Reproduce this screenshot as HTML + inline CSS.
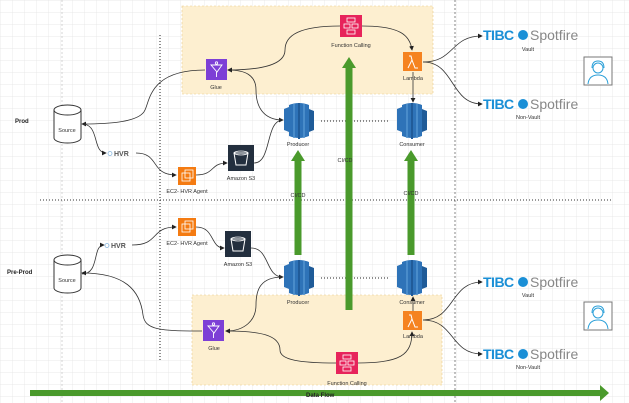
<!DOCTYPE html>
<html><head><meta charset="utf-8"><style>
html,body{margin:0;padding:0;background:#fff;}
svg{display:block;font-family:"Liberation Sans",sans-serif;}
</style></head><body>
<svg width="629" height="403" viewBox="0 0 629 403" xmlns="http://www.w3.org/2000/svg">
<defs>
<pattern id="g" width="12" height="12" patternUnits="userSpaceOnUse"><path d="M12 0H0V12" fill="none" stroke="#e2e2e2" stroke-width="0.7"/></pattern>
<marker id="a" markerWidth="6" markerHeight="6" refX="5" refY="3" orient="auto"><path d="M0,0L6,3L0,6z" fill="#222"/></marker>
<g id="db"><path d="M0 6 L5 4 V29 L0 27Z" fill="#2e73b8"/><path d="M25 6 L30 8 V27 L25 29Z" fill="#1f5b98"/><path d="M5 2 Q15 -2 25 2 V33 Q15 37 5 33Z" fill="#2e73b8"/><path d="M10 1 V35 M15 0 V36 M20 1 V35" stroke="#5294cf" stroke-width="1.5"/><path d="M15 0 V36" stroke="#205b99" stroke-width="2"/></g>
<g id="cyl"><path d="M0 5 V33 A13.5 5 0 0 0 27 33 V5" fill="#fff" stroke="#333"/><ellipse cx="13.5" cy="5" rx="13.5" ry="5" fill="#fff" stroke="#333"/></g>
<g id="glue"><rect width="21" height="21" fill="#7d3fd6"/><path d="M5 6 H16 L11 13 Z M10.5 13 V18" fill="none" stroke="#fff" stroke-width="0.9"/><circle cx="10.5" cy="4" r="1.2" fill="none" stroke="#fff" stroke-width="0.8"/></g>
<g id="lam"><rect width="19" height="19" fill="#f58320"/><path d="M5 16 L9 8 L8 4 H6 M9 8 L12 16 H15" fill="none" stroke="#fff" stroke-width="1"/></g>
<g id="fc"><rect width="22" height="22" fill="#e7245b"/><rect x="7" y="3" width="8" height="4" fill="none" stroke="#fff" stroke-width="0.8"/><rect x="4" y="9" width="6" height="4" fill="none" stroke="#fff" stroke-width="0.8"/><rect x="12" y="9" width="6" height="4" fill="none" stroke="#fff" stroke-width="0.8"/><rect x="7" y="15" width="8" height="4" fill="none" stroke="#fff" stroke-width="0.8"/></g>
<g id="s3"><rect width="26" height="26" fill="#232f3e"/><path d="M6 8 H20 L18 20 H8 Z" fill="none" stroke="#fff" stroke-width="1"/><ellipse cx="13" cy="8" rx="7" ry="2" fill="none" stroke="#fff" stroke-width="0.8"/></g>
<g id="ec2"><rect width="18" height="18" fill="#f47b12"/><rect x="4" y="6" width="8" height="8" fill="none" stroke="#fff" stroke-width="0.8"/><rect x="7" y="3" width="8" height="8" fill="none" stroke="#fff" stroke-width="0.8"/></g>
<g id="person"><rect width="28" height="28" fill="#fff" stroke="#777"/><circle cx="14" cy="11" r="5" fill="none" stroke="#2a9fd8"/><path d="M4 27 Q5 18 14 18 Q23 18 24 27" fill="none" stroke="#2a9fd8"/><path d="M8 11 Q8 4 14 4 Q20 4 20 11" fill="none" stroke="#2a9fd8"/></g>
<g id="tibco"><text x="0" y="0" font-size="14" fill="#1a8fd6" font-weight="bold" letter-spacing="-0.5">TIBC</text><circle cx="40" cy="-5" r="5" fill="#1a8fd6"/><text x="47" y="0" font-size="14" fill="#888">Spotfire</text></g>
</defs>
<rect width="629" height="403" fill="url(#g)"/>
<rect x="182" y="6" width="251" height="88" fill="#fdefd0" stroke="#e8c98a" stroke-dasharray="2,2" stroke-width="0.6"/>
<rect x="192" y="295" width="250" height="90" fill="#fdefd0" stroke="#e8c98a" stroke-dasharray="2,2" stroke-width="0.6"/>
<line x1="160" y1="35" x2="160" y2="362" stroke="#222" stroke-dasharray="1,2"/>
<line x1="455" y1="0" x2="455" y2="403" stroke="#555" stroke-dasharray="2,2" stroke-width="0.7"/>
<line x1="62" y1="0" x2="62" y2="403" stroke="#bbb" stroke-dasharray="2,2" stroke-width="0.6"/>
<line x1="40" y1="200" x2="612" y2="200" stroke="#333" stroke-dasharray="1,2"/>
<line x1="321" y1="121" x2="390" y2="121" stroke="#222" stroke-dasharray="1,2"/>
<line x1="321" y1="278" x2="390" y2="278" stroke="#222" stroke-dasharray="1,2"/>
<g fill="none" stroke="#333" stroke-width="0.8" marker-end="url(#a)">
<path d="M340 26 C300 26 285 35 285 50 C285 65 260 70 228 70"/>
<path d="M362 26 C400 26 410 35 412 50"/>
<path d="M413 72 V102"/>
<path d="M423 62 C455 62 450 36 482 36"/>
<path d="M423 62 C455 62 450 104 482 104"/>
<path d="M205 70 C150 70 150 100 145 110 C140 122 110 124 82 124"/>
<path d="M82 124 C100 124 92 153 106 153"/>
<path d="M136 153 C160 153 150 175 176 175"/>
<path d="M196 175 C215 175 210 163 227 163"/>
<path d="M254 163 C272 163 265 120 283 120"/>
<path d="M283 120 C262 120 256 105 256 90 C256 75 245 70 228 70"/>
<path d="M82 274 C100 274 92 245 104 245"/>
<path d="M132 245 C160 245 150 227 176 227"/>
<path d="M196 227 C215 227 210 248 224 248"/>
<path d="M251 248 C270 248 265 277 283 277"/>
<path d="M283 277 C260 277 256 290 256 305 C256 320 245 331 226 331"/>
<path d="M202 331 C160 331 145 330 143 315 C140 290 125 273 82 273"/>
<path d="M336 363 C300 363 280 360 280 350 C280 335 260 331 226 331"/>
<path d="M358 363 C400 363 412 355 412 332"/>
<path d="M413 311 V297"/>
<path d="M423 320 C455 320 450 282 482 282"/>
<path d="M423 320 C455 320 450 354 482 354"/>
</g>
<g fill="#4a9a2c">
<rect x="345.5" y="66" width="7" height="244"/><path d="M342 68 L349 57 L356 68Z"/>
<rect x="294.5" y="160" width="7" height="95"/><path d="M291 161 L298 150 L305 161Z"/>
<rect x="407.5" y="160" width="7" height="95"/><path d="M404 161 L411 150 L418 161Z"/>
<rect x="30" y="390" width="572" height="6"/><path d="M600 385 L609 393 L600 401Z"/>
</g>
<use href="#fc" x="340" y="15"/><use href="#lam" x="403" y="52"/><use href="#glue" x="206" y="59"/>
<use href="#db" x="284" y="103"/><use href="#db" x="397" y="103"/>
<use href="#s3" x="228" y="145"/><use href="#ec2" x="178" y="167"/>
<use href="#cyl" x="54" y="105"/><use href="#cyl" x="54" y="255"/>
<use href="#ec2" x="178" y="218"/><use href="#s3" x="225" y="231"/>
<use href="#db" x="284" y="260"/><use href="#db" x="397" y="260"/>
<use href="#glue" x="203" y="320"/><use href="#lam" x="403" y="311"/><use href="#fc" x="336" y="352"/>
<use href="#person" x="584" y="57"/><use href="#person" x="584" y="302"/>
<use href="#tibco" x="483" y="40"/><use href="#tibco" x="483" y="109"/>
<use href="#tibco" x="483" y="287"/><use href="#tibco" x="483" y="359"/>
<g font-size="5.5" fill="#333" text-anchor="middle">
<text x="351" y="47">Function Calling</text><text x="413" y="80">Lambda</text><text x="216" y="89">Glue</text>
<text x="298" y="146">Producer</text><text x="412" y="146">Consumer</text>
<text x="241" y="180">Amazon S3</text><text x="187" y="193">EC2- HVR Agent</text>
<text x="67" y="132">Source</text><text x="67" y="282">Source</text>
<text x="187" y="245">EC2- HVR Agent</text><text x="238" y="266">Amazon S3</text>
<text x="298" y="304">Producer</text><text x="412" y="304">Consumer</text>
<text x="214" y="350">Glue</text><text x="413" y="338">Lambda</text><text x="347" y="385">Function Calling</text>
<text x="345" y="162">CI/CD</text><text x="298" y="197">CI/CD</text><text x="411" y="195">CI/CD</text>
<text x="528" y="51">Vault</text><text x="528" y="119">Non-Vault</text>
<text x="528" y="297">Vault</text><text x="528" y="369">Non-Vault</text>
</g>
<g font-size="6" fill="#222" font-weight="bold">
<text x="15" y="123">Prod</text><text x="7" y="274">Pre-Prod</text><text x="306" y="397">Data Flow</text>
<text x="114" y="156" fill="#555" font-size="7">HVR</text><text x="111" y="248" fill="#555" font-size="7">HVR</text>
</g>
<circle cx="110" cy="153.5" r="2" fill="none" stroke="#8ab8e0" stroke-width="0.8"/>
<circle cx="107" cy="245.5" r="2" fill="none" stroke="#8ab8e0" stroke-width="0.8"/>
</svg>
</body></html>
